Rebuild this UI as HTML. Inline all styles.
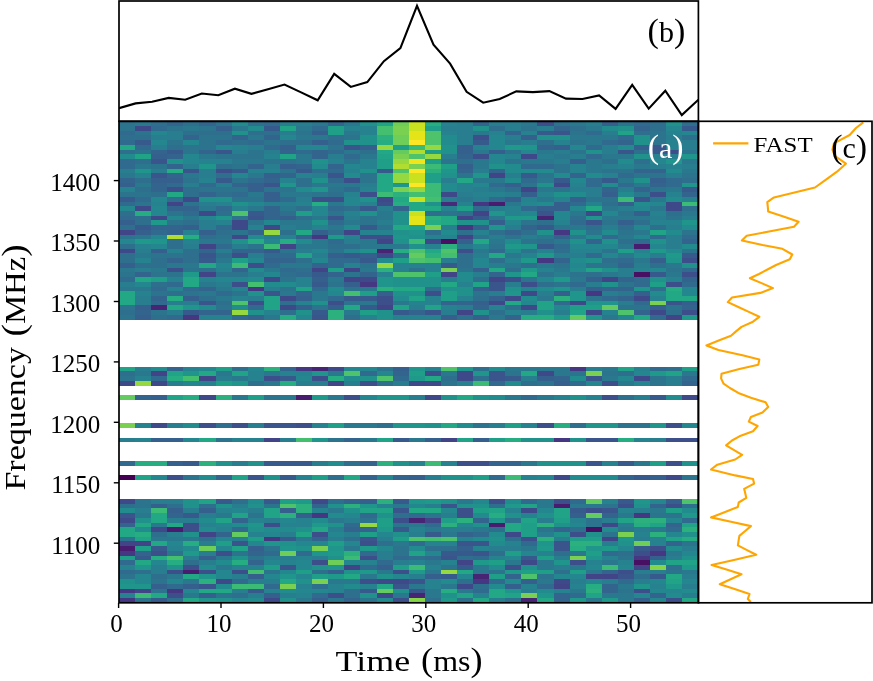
<!DOCTYPE html>
<html><head><meta charset="utf-8"><title>FAST burst dynamic spectrum</title>
<style>
html,body{margin:0;padding:0;background:#fff}
body{width:873px;height:681px;overflow:hidden}
svg{display:block}
text{font-family:"Liberation Serif","DejaVu Serif",serif;fill:#000}
</style></head><body>
<svg width="873" height="681" viewBox="0 0 873 681">
<rect width="873" height="681" fill="#fff"/>
<g shape-rendering="crispEdges"><path fill="#2c738e" d="M119 121h16v5h-16zM216 121h16v5h-16zM554 121h16v5h-16zM618 121h16v5h-16zM119 126h16v5h-16zM167 126h16v5h-16zM199 126h17v5h-17zM521 126h16v5h-16zM135 131h16v4h-16zM296 131h16v4h-16zM570 131h16v4h-16zM650 131h16v4h-16zM199 135h17v5h-17zM216 135h16v5h-16zM344 135h16v5h-16zM650 135h16v5h-16zM167 140h16v5h-16zM199 140h17v5h-17zM264 140h16v5h-16zM570 140h16v5h-16zM650 140h16v5h-16zM183 145h16v5h-16zM199 145h17v5h-17zM328 145h16v5h-16zM135 150h16v4h-16zM183 150h16v4h-16zM248 150h16v4h-16zM505 150h16v4h-16zM570 150h16v4h-16zM682 150h16v4h-16zM216 154h16v5h-16zM232 154h16v5h-16zM248 154h16v5h-16zM264 159h16v5h-16zM280 159h16v5h-16zM344 159h16v5h-16zM441 159h16v5h-16zM505 159h16v5h-16zM151 164h16v5h-16zM232 164h16v5h-16zM554 164h16v5h-16zM280 169h16v4h-16zM554 169h16v4h-16zM602 169h16v4h-16zM618 169h16v4h-16zM360 173h17v5h-17zM457 173h16v5h-16zM537 173h17v5h-17zM634 173h16v5h-16zM650 173h16v5h-16zM682 173h16v5h-16zM183 178h16v5h-16zM232 178h16v5h-16zM360 178h17v5h-17zM521 183h16v4h-16zM199 187h17v5h-17zM216 187h16v5h-16zM232 187h16v5h-16zM264 187h16v5h-16zM280 187h16v5h-16zM328 187h16v5h-16zM554 187h16v5h-16zM650 187h16v5h-16zM119 192h16v5h-16zM135 192h16v5h-16zM312 192h16v5h-16zM232 197h16v5h-16zM248 197h16v5h-16zM586 197h16v5h-16zM602 197h16v5h-16zM135 202h16v4h-16zM183 202h16v4h-16zM167 211h16v5h-16zM328 211h16v5h-16zM441 211h16v5h-16zM618 211h16v5h-16zM232 216h16v4h-16zM360 216h17v4h-17zM666 216h16v4h-16zM167 220h16v5h-16zM248 220h16v5h-16zM360 220h17v5h-17zM521 220h16v5h-16zM602 220h16v5h-16zM377 225h16v5h-16zM554 225h16v5h-16zM232 230h16v5h-16zM586 230h16v5h-16zM618 230h16v5h-16zM682 230h16v5h-16zM119 235h16v4h-16zM216 235h16v4h-16zM473 235h16v4h-16zM505 235h16v4h-16zM521 239h16v5h-16zM248 244h16v5h-16zM489 244h16v5h-16zM280 249h16v4h-16zM328 249h16v4h-16zM521 249h16v4h-16zM602 249h16v4h-16zM682 249h16v4h-16zM151 253h16v5h-16zM167 253h16v5h-16zM360 263h17v5h-17zM554 263h16v5h-16zM586 263h16v5h-16zM602 263h16v5h-16zM183 268h16v4h-16zM409 268h16v4h-16zM457 268h16v4h-16zM666 268h16v4h-16zM119 272h16v5h-16zM151 272h16v5h-16zM167 272h16v5h-16zM216 272h16v5h-16zM232 272h16v5h-16zM344 272h16v5h-16zM537 272h17v5h-17zM570 272h16v5h-16zM280 277h16v5h-16zM521 277h16v5h-16zM328 282h16v5h-16zM554 282h16v5h-16zM618 282h16v5h-16zM280 287h16v4h-16zM344 287h16v4h-16zM151 291h16v5h-16zM183 291h16v5h-16zM232 291h16v5h-16zM473 291h16v5h-16zM586 296h16v5h-16zM344 301h16v4h-16zM119 305h16v5h-16zM216 305h16v5h-16zM312 305h16v5h-16zM618 305h16v5h-16zM634 305h16v5h-16zM666 305h16v5h-16zM151 310h16v5h-16zM119 315h16v5h-16zM377 367h16v4h-16zM505 371h16v5h-16zM570 371h16v5h-16zM602 371h16v5h-16zM119 376h16v5h-16zM650 376h16v5h-16zM441 381h16v5h-16zM537 381h17v5h-17zM650 381h16v5h-16zM264 395h16v5h-16zM473 423h16v5h-16zM618 423h16v5h-16zM634 423h16v5h-16zM216 438h16v4h-16zM328 438h16v4h-16zM183 475h16v5h-16zM682 475h16v5h-16zM135 499h16v5h-16zM135 504h16v4h-16zM264 504h16v4h-16zM602 504h16v4h-16zM248 513h16v5h-16zM425 513h16v5h-16zM650 513h16v5h-16zM666 513h16v5h-16zM360 518h17v5h-17zM586 518h16v5h-16zM393 523h16v4h-16zM586 523h16v4h-16zM537 527h17v5h-17zM602 532h16v5h-16zM119 537h16v4h-16zM682 541h16v5h-16zM264 546h16v5h-16zM393 546h16v5h-16zM167 551h16v5h-16zM232 551h16v5h-16zM393 551h16v5h-16zM248 556h16v4h-16zM618 556h16v4h-16zM441 565h16v5h-16zM264 570h16v4h-16zM489 570h16v4h-16zM666 570h16v4h-16zM119 574h16v5h-16zM537 574h17v5h-17zM151 579h16v5h-16zM151 589h16v4h-16zM618 589h16v4h-16zM216 593h16v5h-16zM135 598h16v5h-16zM360 598h17v5h-17z"/><path fill="#2a788e" d="M135 121h16v5h-16zM312 121h16v5h-16zM344 121h16v5h-16zM521 121h16v5h-16zM570 121h16v5h-16zM183 126h16v5h-16zM232 126h16v5h-16zM296 126h16v5h-16zM586 126h16v5h-16zM344 131h16v4h-16zM473 131h16v4h-16zM248 135h16v5h-16zM296 135h16v5h-16zM312 135h16v5h-16zM570 135h16v5h-16zM586 135h16v5h-16zM602 135h16v5h-16zM505 140h16v5h-16zM586 140h16v5h-16zM344 150h16v4h-16zM473 150h16v4h-16zM537 150h17v4h-17zM199 154h17v5h-17zM296 154h16v5h-16zM360 154h17v5h-17zM554 154h16v5h-16zM602 154h16v5h-16zM618 154h16v5h-16zM232 159h16v5h-16zM248 159h16v5h-16zM296 159h16v5h-16zM473 159h16v5h-16zM521 159h16v5h-16zM537 159h17v5h-17zM586 159h16v5h-16zM682 159h16v5h-16zM135 164h16v5h-16zM473 164h16v5h-16zM586 164h16v5h-16zM634 164h16v5h-16zM586 169h16v4h-16zM682 169h16v4h-16zM119 173h16v5h-16zM183 173h16v5h-16zM248 173h16v5h-16zM473 178h16v5h-16zM489 178h16v5h-16zM537 178h17v5h-17zM618 178h16v5h-16zM135 183h16v4h-16zM312 183h16v4h-16zM328 183h16v4h-16zM344 183h16v4h-16zM634 183h16v4h-16zM489 187h16v5h-16zM537 187h17v5h-17zM666 187h16v5h-16zM248 192h16v5h-16zM280 192h16v5h-16zM296 192h16v5h-16zM634 192h16v5h-16zM457 197h16v5h-16zM537 197h17v5h-17zM650 197h16v5h-16zM328 202h16v4h-16zM505 202h16v4h-16zM199 206h17v5h-17zM248 206h16v5h-16zM280 206h16v5h-16zM602 206h16v5h-16zM650 206h16v5h-16zM377 211h16v5h-16zM570 211h16v5h-16zM682 211h16v5h-16zM183 216h16v4h-16zM312 216h16v4h-16zM377 216h16v4h-16zM489 216h16v4h-16zM602 216h16v4h-16zM618 216h16v4h-16zM634 216h16v4h-16zM280 220h16v5h-16zM296 220h16v5h-16zM344 220h16v5h-16zM296 225h16v5h-16zM328 225h16v5h-16zM570 225h16v5h-16zM634 230h16v5h-16zM135 235h16v4h-16zM537 235h17v4h-17zM570 235h16v4h-16zM618 235h16v4h-16zM199 239h17v5h-17zM216 239h16v5h-16zM312 239h16v5h-16zM360 239h17v5h-17zM489 239h16v5h-16zM554 239h16v5h-16zM296 244h16v5h-16zM312 244h16v5h-16zM360 244h17v5h-17zM377 244h16v5h-16zM393 244h16v5h-16zM457 244h16v5h-16zM618 244h16v5h-16zM473 249h16v4h-16zM135 253h16v5h-16zM505 253h16v5h-16zM618 253h16v5h-16zM216 258h16v5h-16zM634 258h16v5h-16zM167 263h16v5h-16zM183 263h16v5h-16zM280 263h16v5h-16zM296 263h16v5h-16zM505 263h16v5h-16zM537 263h17v5h-17zM666 263h16v5h-16zM119 268h16v4h-16zM151 268h16v4h-16zM264 268h16v4h-16zM360 268h17v4h-17zM554 268h16v4h-16zM602 272h16v5h-16zM666 272h16v5h-16zM328 277h16v5h-16zM570 277h16v5h-16zM199 282h17v5h-17zM119 287h16v4h-16zM135 287h16v4h-16zM216 287h16v4h-16zM360 287h17v4h-17zM199 291h17v5h-17zM280 291h16v5h-16zM312 291h16v5h-16zM618 291h16v5h-16zM216 296h16v5h-16zM312 296h16v5h-16zM537 296h17v5h-17zM360 301h17v4h-17zM393 301h16v4h-16zM344 310h16v5h-16zM264 315h16v5h-16zM489 315h16v5h-16zM602 315h16v5h-16zM505 367h16v4h-16zM521 367h16v4h-16zM537 367h17v4h-17zM554 367h16v4h-16zM602 367h16v4h-16zM135 371h16v5h-16zM216 371h16v5h-16zM264 371h16v5h-16zM328 371h16v5h-16zM441 371h16v5h-16zM554 371h16v5h-16zM682 371h16v5h-16zM232 376h16v5h-16zM602 376h16v5h-16zM264 381h16v5h-16zM618 381h16v5h-16zM232 395h16v5h-16zM280 395h16v5h-16zM328 395h16v5h-16zM505 395h16v5h-16zM537 395h17v5h-17zM344 423h16v5h-16zM360 423h17v5h-17zM360 438h17v4h-17zM409 438h16v4h-16zM521 461h16v5h-16zM634 461h16v5h-16zM457 499h16v5h-16zM537 499h17v5h-17zM393 504h16v4h-16zM537 504h17v4h-17zM570 504h16v4h-16zM586 504h16v4h-16zM328 508h16v5h-16zM650 508h16v5h-16zM135 513h16v5h-16zM216 513h16v5h-16zM618 513h16v5h-16zM328 518h16v5h-16zM151 523h16v4h-16zM409 523h16v4h-16zM425 527h16v5h-16zM473 527h16v5h-16zM618 527h16v5h-16zM650 527h16v5h-16zM441 532h16v5h-16zM151 537h16v4h-16zM167 537h16v4h-16zM183 537h16v4h-16zM296 537h16v4h-16zM393 541h16v5h-16zM344 546h16v5h-16zM521 546h16v5h-16zM570 551h16v5h-16zM666 551h16v5h-16zM216 556h16v4h-16zM425 560h16v5h-16zM505 560h16v5h-16zM537 560h17v5h-17zM602 560h16v5h-16zM216 565h16v5h-16zM473 565h16v5h-16zM537 565h17v5h-17zM570 565h16v5h-16zM377 570h16v4h-16zM425 570h16v4h-16zM473 570h16v4h-16zM586 570h16v4h-16zM682 570h16v4h-16zM167 574h16v5h-16zM360 574h17v5h-17zM183 579h16v5h-16zM328 579h16v5h-16zM344 579h16v5h-16zM537 579h17v5h-17zM409 584h16v5h-16zM441 584h16v5h-16zM618 584h16v5h-16zM425 589h16v4h-16zM457 589h16v4h-16zM570 589h16v4h-16zM183 593h16v5h-16zM393 593h16v5h-16zM425 593h16v5h-16zM602 593h16v5h-16zM618 593h16v5h-16zM296 598h16v5h-16zM328 598h16v5h-16zM586 598h16v5h-16zM618 598h16v5h-16z"/><path fill="#2e6f8e" d="M151 121h16v5h-16zM183 121h16v5h-16zM248 121h16v5h-16zM650 121h16v5h-16zM682 121h16v5h-16zM489 126h16v5h-16zM570 126h16v5h-16zM650 126h16v5h-16zM183 131h16v4h-16zM199 131h17v4h-17zM216 131h16v4h-16zM248 131h16v4h-16zM264 131h16v4h-16zM634 131h16v4h-16zM119 135h16v5h-16zM135 135h16v5h-16zM328 135h16v5h-16zM682 135h16v5h-16zM232 140h16v5h-16zM280 140h16v5h-16zM296 140h16v5h-16zM537 140h17v5h-17zM167 145h16v5h-16zM119 150h16v4h-16zM360 150h17v4h-17zM634 150h16v4h-16zM135 159h16v5h-16zM457 159h16v5h-16zM602 159h16v5h-16zM634 159h16v5h-16zM216 164h16v5h-16zM312 169h16v4h-16zM216 173h16v5h-16zM135 178h16v5h-16zM296 178h16v5h-16zM682 178h16v5h-16zM296 183h16v4h-16zM135 187h16v5h-16zM183 187h16v5h-16zM505 187h16v5h-16zM151 192h16v5h-16zM183 192h16v5h-16zM216 192h16v5h-16zM328 192h16v5h-16zM167 197h16v5h-16zM602 202h16v4h-16zM296 206h16v5h-16zM344 206h16v5h-16zM682 206h16v5h-16zM119 211h16v5h-16zM216 211h16v5h-16zM280 211h16v5h-16zM425 211h16v5h-16zM457 211h16v5h-16zM666 211h16v5h-16zM135 216h16v4h-16zM296 216h16v4h-16zM570 216h16v4h-16zM135 220h16v5h-16zM183 220h16v5h-16zM537 220h17v5h-17zM634 220h16v5h-16zM119 225h16v5h-16zM586 225h16v5h-16zM618 225h16v5h-16zM650 225h16v5h-16zM216 230h16v5h-16zM280 230h16v5h-16zM328 230h16v5h-16zM425 230h16v5h-16zM457 230h16v5h-16zM489 230h16v5h-16zM521 230h16v5h-16zM199 235h17v4h-17zM167 239h16v5h-16zM537 239h17v5h-17zM618 239h16v5h-16zM119 244h16v5h-16zM167 244h16v5h-16zM328 244h16v5h-16zM344 244h16v5h-16zM183 249h16v4h-16zM554 249h16v4h-16zM119 253h16v5h-16zM183 253h16v5h-16zM216 253h16v5h-16zM393 253h16v5h-16zM457 253h16v5h-16zM119 258h16v5h-16zM151 258h16v5h-16zM183 258h16v5h-16zM296 258h16v5h-16zM457 258h16v5h-16zM489 258h16v5h-16zM602 258h16v5h-16zM135 263h16v5h-16zM151 263h16v5h-16zM457 263h16v5h-16zM521 263h16v5h-16zM650 263h16v5h-16zM199 268h17v4h-17zM296 268h16v4h-16zM505 268h16v4h-16zM280 272h16v5h-16zM586 272h16v5h-16zM473 277h16v5h-16zM151 282h16v5h-16zM537 282h17v5h-17zM425 287h16v4h-16zM650 287h16v4h-16zM167 291h16v5h-16zM199 296h17v5h-17zM473 296h16v5h-16zM216 301h16v4h-16zM280 301h16v4h-16zM505 305h16v5h-16zM119 310h16v5h-16zM280 310h16v5h-16zM489 310h16v5h-16zM666 310h16v5h-16zM151 315h16v5h-16zM344 315h16v5h-16zM457 315h16v5h-16zM232 367h16v4h-16zM473 367h16v4h-16zM666 367h16v4h-16zM119 371h16v5h-16zM618 371h16v5h-16zM441 376h16v5h-16zM473 376h16v5h-16zM248 381h16v5h-16zM377 381h16v5h-16zM521 381h16v5h-16zM618 395h16v5h-16zM216 423h16v5h-16zM377 423h16v5h-16zM570 423h16v5h-16zM344 461h16v5h-16zM328 475h16v5h-16zM232 499h16v5h-16zM328 499h16v5h-16zM119 504h16v4h-16zM167 504h16v4h-16zM199 504h17v4h-17zM489 504h16v4h-16zM682 504h16v4h-16zM393 513h16v5h-16zM505 518h16v5h-16zM489 527h16v5h-16zM570 527h16v5h-16zM151 532h16v5h-16zM199 537h17v4h-17zM344 537h16v4h-16zM505 537h16v4h-16zM377 541h16v5h-16zM425 546h16v5h-16zM441 546h16v5h-16zM489 551h16v5h-16zM554 551h16v5h-16zM618 551h16v5h-16zM409 556h16v4h-16zM457 556h16v4h-16zM183 560h16v5h-16zM666 565h16v5h-16zM135 570h16v4h-16zM312 570h16v4h-16zM554 570h16v4h-16zM151 574h16v5h-16zM634 574h16v5h-16zM457 579h16v5h-16zM312 584h16v5h-16zM473 584h16v5h-16zM344 589h16v4h-16zM232 593h16v5h-16zM344 593h16v5h-16zM167 598h16v5h-16zM425 598h16v5h-16zM457 598h16v5h-16zM505 598h16v5h-16z"/><path fill="#32648e" d="M167 121h16v5h-16zM199 121h17v5h-17zM328 121h16v5h-16zM473 121h16v5h-16zM554 126h16v5h-16zM634 126h16v5h-16zM505 131h16v4h-16zM183 135h16v5h-16zM232 135h16v5h-16zM264 135h16v5h-16zM618 140h16v5h-16zM537 145h17v5h-17zM151 150h16v4h-16zM199 150h17v4h-17zM280 150h16v4h-16zM312 150h16v4h-16zM167 154h16v5h-16zM312 154h16v5h-16zM457 154h16v5h-16zM167 164h16v5h-16zM248 164h16v5h-16zM296 164h16v5h-16zM328 164h16v5h-16zM457 169h16v4h-16zM489 169h16v4h-16zM634 169h16v4h-16zM650 169h16v4h-16zM167 173h16v5h-16zM280 173h16v5h-16zM570 173h16v5h-16zM119 178h16v5h-16zM264 178h16v5h-16zM151 183h16v4h-16zM232 183h16v4h-16zM650 183h16v4h-16zM151 187h16v5h-16zM602 187h16v5h-16zM634 187h16v5h-16zM199 192h17v5h-17zM682 192h16v5h-16zM167 206h16v5h-16zM183 206h16v5h-16zM264 206h16v5h-16zM393 206h16v5h-16zM264 211h16v5h-16zM264 216h16v4h-16zM151 225h16v5h-16zM167 225h16v5h-16zM521 225h16v5h-16zM167 230h16v5h-16zM248 230h16v5h-16zM505 230h16v5h-16zM296 235h16v4h-16zM554 235h16v4h-16zM586 239h16v5h-16zM682 239h16v5h-16zM199 249h17v4h-17zM232 249h16v4h-16zM248 249h16v4h-16zM167 258h16v5h-16zM264 258h16v5h-16zM280 258h16v5h-16zM554 258h16v5h-16zM312 263h16v5h-16zM618 263h16v5h-16zM232 268h16v4h-16zM135 272h16v5h-16zM328 272h16v5h-16zM360 272h17v5h-17zM489 272h16v5h-16zM618 277h16v5h-16zM682 277h16v5h-16zM199 287h17v4h-17zM602 287h16v4h-16zM618 287h16v4h-16zM296 291h16v5h-16zM151 296h16v5h-16zM618 296h16v5h-16zM441 301h16v4h-16zM457 301h16v4h-16zM473 305h16v5h-16zM682 305h16v5h-16zM135 310h16v5h-16zM199 310h17v5h-17zM216 310h16v5h-16zM409 310h16v5h-16zM634 310h16v5h-16zM248 315h16v5h-16zM505 315h16v5h-16zM167 367h16v4h-16zM280 367h16v4h-16zM393 371h16v5h-16zM554 376h16v5h-16zM682 381h16v5h-16zM135 395h16v5h-16zM344 438h16v4h-16zM360 461h17v5h-17zM489 461h16v5h-16zM505 461h16v5h-16zM216 475h16v5h-16zM360 475h17v5h-17zM393 475h16v5h-16zM618 475h16v5h-16zM344 499h16v5h-16zM312 504h16v4h-16zM650 504h16v4h-16zM167 513h16v5h-16zM602 513h16v5h-16zM232 518h16v5h-16zM473 518h16v5h-16zM119 523h16v4h-16zM666 523h16v4h-16zM344 527h16v5h-16zM360 527h17v5h-17zM554 527h16v5h-16zM216 532h16v5h-16zM457 532h16v5h-16zM312 537h16v4h-16zM666 541h16v5h-16zM135 551h16v5h-16zM248 551h16v5h-16zM248 560h16v5h-16zM602 570h16v4h-16zM505 574h16v5h-16zM602 584h16v5h-16zM602 589h16v4h-16zM554 593h16v5h-16zM650 593h16v5h-16zM344 598h16v5h-16zM554 598h16v5h-16z"/><path fill="#228b8d" d="M232 121h16v5h-16zM248 126h16v5h-16zM602 126h16v5h-16zM441 135h16v5h-16zM441 140h16v5h-16zM618 145h16v5h-16zM119 154h16v5h-16zM618 159h16v5h-16zM312 164h16v5h-16zM505 164h16v5h-16zM505 169h16v4h-16zM521 169h16v4h-16zM537 169h17v4h-17zM666 169h16v4h-16zM344 173h16v5h-16zM554 173h16v5h-16zM586 173h16v5h-16zM505 178h16v5h-16zM441 183h16v4h-16zM602 183h16v4h-16zM296 187h16v5h-16zM441 187h16v5h-16zM570 192h16v5h-16zM618 192h16v5h-16zM666 197h16v5h-16zM537 202h17v4h-17zM634 202h16v4h-16zM344 225h16v5h-16zM682 225h16v5h-16zM441 230h16v5h-16zM602 230h16v5h-16zM666 230h16v5h-16zM248 235h16v4h-16zM586 235h16v4h-16zM296 239h16v5h-16zM505 239h16v5h-16zM682 244h16v5h-16zM505 249h16v4h-16zM666 249h16v4h-16zM634 253h16v5h-16zM377 258h16v5h-16zM570 258h16v5h-16zM248 268h16v4h-16zM570 268h16v4h-16zM457 272h16v5h-16zM248 277h16v5h-16zM457 277h16v5h-16zM264 282h16v5h-16zM280 282h16v5h-16zM328 287h16v4h-16zM537 287h17v4h-17zM650 291h16v5h-16zM393 296h16v5h-16zM521 296h16v5h-16zM199 305h17v5h-17zM232 305h16v5h-16zM151 367h16v4h-16zM489 367h16v4h-16zM344 376h16v5h-16zM570 376h16v5h-16zM505 381h16v5h-16zM489 395h16v5h-16zM666 395h16v5h-16zM183 423h16v5h-16zM457 423h16v5h-16zM328 461h16v5h-16zM199 475h17v5h-17zM570 475h16v5h-16zM586 475h16v5h-16zM602 475h16v5h-16zM248 499h16v5h-16zM505 499h16v5h-16zM119 508h16v5h-16zM682 508h16v5h-16zM328 513h16v5h-16zM473 513h16v5h-16zM199 518h17v5h-17zM312 518h16v5h-16zM232 523h16v4h-16zM135 527h16v5h-16zM199 527h17v5h-17zM264 527h16v5h-16zM280 527h16v5h-16zM602 527h16v5h-16zM489 532h16v5h-16zM473 537h16v4h-16zM489 541h16v5h-16zM183 546h16v5h-16zM409 546h16v5h-16zM666 546h16v5h-16zM216 560h16v5h-16zM650 560h16v5h-16zM199 565h17v5h-17zM489 565h16v5h-16zM441 579h16v5h-16zM505 579h16v5h-16zM216 584h16v5h-16zM344 584h16v5h-16zM489 584h16v5h-16zM280 589h16v4h-16zM537 589h17v4h-17zM682 589h16v4h-16zM666 593h16v5h-16zM248 598h16v5h-16zM377 598h16v5h-16z"/><path fill="#306a8e" d="M264 121h16v5h-16zM634 121h16v5h-16zM151 126h16v5h-16zM312 126h16v5h-16zM119 131h16v4h-16zM586 131h16v4h-16zM618 135h16v5h-16zM119 140h16v5h-16zM216 140h16v5h-16zM248 140h16v5h-16zM328 140h16v5h-16zM602 140h16v5h-16zM135 145h16v5h-16zM264 145h16v5h-16zM586 145h16v5h-16zM296 150h16v4h-16zM328 150h16v4h-16zM344 154h16v5h-16zM586 154h16v5h-16zM119 159h16v5h-16zM119 164h16v5h-16zM521 164h16v5h-16zM537 164h17v5h-17zM328 169h16v4h-16zM618 173h16v5h-16zM248 178h16v5h-16zM328 178h16v5h-16zM521 178h16v5h-16zM586 178h16v5h-16zM666 178h16v5h-16zM167 183h16v4h-16zM199 183h17v4h-17zM489 183h16v4h-16zM586 183h16v4h-16zM618 183h16v4h-16zM666 183h16v4h-16zM344 187h16v5h-16zM232 192h16v5h-16zM135 197h16v5h-16zM280 197h16v5h-16zM489 197h16v5h-16zM119 202h16v4h-16zM570 202h16v4h-16zM216 206h16v5h-16zM328 206h16v5h-16zM473 206h16v5h-16zM521 206h16v5h-16zM183 211h16v5h-16zM119 216h16v4h-16zM328 220h16v5h-16zM570 220h16v5h-16zM216 225h16v5h-16zM151 230h16v5h-16zM602 235h16v4h-16zM650 235h16v4h-16zM682 235h16v4h-16zM328 239h16v5h-16zM634 239h16v5h-16zM216 244h16v5h-16zM554 244h16v5h-16zM489 249h16v4h-16zM264 253h16v5h-16zM280 253h16v5h-16zM586 253h16v5h-16zM328 258h16v5h-16zM344 258h16v5h-16zM618 258h16v5h-16zM264 263h16v5h-16zM328 263h16v5h-16zM280 268h16v4h-16zM682 268h16v4h-16zM296 272h16v5h-16zM119 277h16v5h-16zM634 277h16v5h-16zM167 282h16v5h-16zM570 282h16v5h-16zM634 282h16v5h-16zM682 282h16v5h-16zM151 287h16v4h-16zM183 287h16v4h-16zM312 287h16v4h-16zM216 291h16v5h-16zM328 296h16v5h-16zM602 296h16v5h-16zM151 301h16v4h-16zM554 301h16v4h-16zM634 301h16v4h-16zM248 305h16v5h-16zM167 315h16v5h-16zM232 315h16v5h-16zM650 315h16v5h-16zM650 367h16v4h-16zM360 371h17v5h-17zM151 376h16v5h-16zM393 376h16v5h-16zM682 376h16v5h-16zM489 381h16v5h-16zM570 381h16v5h-16zM521 395h16v5h-16zM119 461h16v5h-16zM489 475h16v5h-16zM521 499h16v5h-16zM570 499h16v5h-16zM360 513h17v5h-17zM409 513h16v5h-16zM682 518h16v5h-16zM344 523h16v4h-16zM425 523h16v4h-16zM232 527h16v5h-16zM666 527h16v5h-16zM473 532h16v5h-16zM409 541h16v5h-16zM521 541h16v5h-16zM264 551h16v5h-16zM296 551h16v5h-16zM360 551h17v5h-17zM602 551h16v5h-16zM393 556h16v4h-16zM425 556h16v4h-16zM473 556h16v4h-16zM119 560h16v5h-16zM377 560h16v5h-16zM360 565h17v5h-17zM119 570h16v4h-16zM232 579h16v5h-16zM489 579h16v5h-16zM618 579h16v5h-16zM167 584h16v5h-16zM264 584h16v5h-16zM537 584h17v5h-17zM473 589h16v4h-16zM312 593h16v5h-16zM570 593h16v5h-16z"/><path fill="#287d8e" d="M280 121h16v5h-16zM296 121h16v5h-16zM457 121h16v5h-16zM489 121h16v5h-16zM505 121h16v5h-16zM586 121h16v5h-16zM441 126h16v5h-16zM457 126h16v5h-16zM505 126h16v5h-16zM537 126h17v5h-17zM167 131h16v4h-16zM280 131h16v4h-16zM457 131h16v4h-16zM602 131h16v4h-16zM151 135h16v5h-16zM167 135h16v5h-16zM457 135h16v5h-16zM505 135h16v5h-16zM666 135h16v5h-16zM457 140h16v5h-16zM521 140h16v5h-16zM682 140h16v5h-16zM151 145h16v5h-16zM248 145h16v5h-16zM602 145h16v5h-16zM682 145h16v5h-16zM232 150h16v4h-16zM264 150h16v4h-16zM554 150h16v4h-16zM602 150h16v4h-16zM328 154h16v5h-16zM441 154h16v5h-16zM537 154h17v5h-17zM570 154h16v5h-16zM666 154h16v5h-16zM554 159h16v5h-16zM183 164h16v5h-16zM264 164h16v5h-16zM602 164h16v5h-16zM650 164h16v5h-16zM682 164h16v5h-16zM119 169h16v4h-16zM151 169h16v4h-16zM199 169h17v4h-17zM473 169h16v4h-16zM199 173h17v5h-17zM312 173h16v5h-16zM505 173h16v5h-16zM666 173h16v5h-16zM441 178h16v5h-16zM183 183h16v4h-16zM216 183h16v4h-16zM360 183h17v4h-17zM473 187h16v5h-16zM570 187h16v5h-16zM586 187h16v5h-16zM618 187h16v5h-16zM457 192h16v5h-16zM505 192h16v5h-16zM586 192h16v5h-16zM296 197h16v5h-16zM441 197h16v5h-16zM473 197h16v5h-16zM199 202h17v4h-17zM264 202h16v4h-16zM280 202h16v4h-16zM377 206h16v5h-16zM489 206h16v5h-16zM618 206h16v5h-16zM344 216h16v4h-16zM650 216h16v4h-16zM682 216h16v4h-16zM199 220h17v5h-17zM377 220h16v5h-16zM199 225h17v5h-17zM280 225h16v5h-16zM441 225h16v5h-16zM505 225h16v5h-16zM602 225h16v5h-16zM666 225h16v5h-16zM264 235h16v4h-16zM489 235h16v4h-16zM521 235h16v4h-16zM666 235h16v4h-16zM344 239h16v5h-16zM666 239h16v5h-16zM183 244h16v5h-16zM232 244h16v5h-16zM666 244h16v5h-16zM135 249h16v4h-16zM216 249h16v4h-16zM296 249h16v4h-16zM248 253h16v5h-16zM312 253h16v5h-16zM473 253h16v5h-16zM554 253h16v5h-16zM570 253h16v5h-16zM650 253h16v5h-16zM441 258h16v5h-16zM489 263h16v5h-16zM634 263h16v5h-16zM135 268h16v4h-16zM618 268h16v4h-16zM248 272h16v5h-16zM473 272h16v5h-16zM554 272h16v5h-16zM618 272h16v5h-16zM441 277h16v5h-16zM119 282h16v5h-16zM216 282h16v5h-16zM505 282h16v5h-16zM586 282h16v5h-16zM264 287h16v4h-16zM570 287h16v4h-16zM489 291h16v5h-16zM537 291h17v5h-17zM602 291h16v5h-16zM135 296h16v5h-16zM248 296h16v5h-16zM135 301h16v4h-16zM167 301h16v4h-16zM183 301h16v4h-16zM618 301h16v4h-16zM409 305h16v5h-16zM457 305h16v5h-16zM167 310h16v5h-16zM441 310h16v5h-16zM521 310h16v5h-16zM554 310h16v5h-16zM135 367h16v4h-16zM586 367h16v4h-16zM216 376h16v5h-16zM521 376h16v5h-16zM666 376h16v5h-16zM167 381h16v5h-16zM296 381h16v5h-16zM312 381h16v5h-16zM344 381h16v5h-16zM393 381h16v5h-16zM666 381h16v5h-16zM409 395h16v5h-16zM634 395h16v5h-16zM167 423h16v5h-16zM248 423h16v5h-16zM489 423h16v5h-16zM119 438h16v4h-16zM280 438h16v4h-16zM650 438h16v4h-16zM232 461h16v5h-16zM312 461h16v5h-16zM425 475h16v5h-16zM151 499h16v5h-16zM167 499h16v5h-16zM232 504h16v4h-16zM425 504h16v4h-16zM135 508h16v5h-16zM183 508h16v5h-16zM248 508h16v5h-16zM634 508h16v5h-16zM199 513h17v5h-17zM441 513h16v5h-16zM167 518h16v5h-16zM183 518h16v5h-16zM264 518h16v5h-16zM344 518h16v5h-16zM537 518h17v5h-17zM602 518h16v5h-16zM618 523h16v4h-16zM328 527h16v5h-16zM441 527h16v5h-16zM457 527h16v5h-16zM634 527h16v5h-16zM167 532h16v5h-16zM280 532h16v5h-16zM344 532h16v5h-16zM409 532h16v5h-16zM537 532h17v5h-17zM232 537h16v4h-16zM328 537h16v4h-16zM377 537h16v4h-16zM554 537h16v4h-16zM634 537h16v4h-16zM199 541h17v5h-17zM602 541h16v5h-16zM489 546h16v5h-16zM505 546h16v5h-16zM682 546h16v5h-16zM199 551h17v5h-17zM377 551h16v5h-16zM183 556h16v4h-16zM264 556h16v4h-16zM280 556h16v4h-16zM312 556h16v4h-16zM377 556h16v4h-16zM554 556h16v4h-16zM666 556h16v4h-16zM199 560h17v5h-17zM393 560h16v5h-16zM151 565h16v5h-16zM554 565h16v5h-16zM151 570h16v4h-16zM634 570h16v4h-16zM650 570h16v4h-16zM232 574h16v5h-16zM409 574h16v5h-16zM682 574h16v5h-16zM248 579h16v5h-16zM264 579h16v5h-16zM570 579h16v5h-16zM602 579h16v5h-16zM634 579h16v5h-16zM682 584h16v5h-16zM232 589h16v4h-16zM521 589h16v4h-16zM248 593h16v5h-16zM280 593h16v5h-16zM682 593h16v5h-16zM489 598h16v5h-16z"/><path fill="#21918c" d="M360 121h17v5h-17zM666 121h16v5h-16zM473 126h16v5h-16zM618 126h16v5h-16zM232 131h16v4h-16zM360 135h17v5h-17zM537 135h17v5h-17zM554 135h16v5h-16zM634 135h16v5h-16zM344 140h16v5h-16zM360 140h17v5h-17zM634 140h16v5h-16zM441 145h16v5h-16zM441 150h16v4h-16zM586 150h16v4h-16zM634 154h16v5h-16zM167 159h16v5h-16zM312 159h16v5h-16zM489 164h16v5h-16zM360 169h17v4h-17zM441 173h16v5h-16zM312 178h16v5h-16zM634 178h16v5h-16zM537 183h17v4h-17zM554 192h16v5h-16zM199 197h17v5h-17zM216 197h16v5h-16zM360 197h17v5h-17zM232 202h16v4h-16zM425 202h16v4h-16zM360 211h17v5h-17zM393 211h16v5h-16zM393 216h16v4h-16zM312 220h16v5h-16zM393 220h16v5h-16zM457 220h16v5h-16zM473 220h16v5h-16zM393 230h16v5h-16zM537 230h17v5h-17zM570 230h16v5h-16zM409 235h16v4h-16zM232 239h16v5h-16zM393 239h16v5h-16zM570 239h16v5h-16zM602 239h16v5h-16zM650 239h16v5h-16zM409 244h16v5h-16zM360 249h17v4h-17zM586 258h16v5h-16zM682 263h16v5h-16zM602 268h16v4h-16zM393 277h16v5h-16zM409 277h16v5h-16zM425 277h16v5h-16zM650 277h16v5h-16zM393 282h16v5h-16zM409 282h16v5h-16zM425 282h16v5h-16zM602 282h16v5h-16zM441 287h16v4h-16zM457 287h16v4h-16zM505 287h16v4h-16zM248 291h16v5h-16zM393 291h16v5h-16zM409 291h16v5h-16zM457 291h16v5h-16zM312 301h16v4h-16zM248 310h16v5h-16zM296 310h16v5h-16zM377 310h16v5h-16zM473 310h16v5h-16zM537 310h17v5h-17zM377 315h16v5h-16zM360 376h17v5h-17zM441 395h16v5h-16zM473 395h16v5h-16zM570 395h16v5h-16zM425 423h16v5h-16zM521 438h16v4h-16zM537 438h17v4h-17zM570 438h16v4h-16zM216 461h16v5h-16zM248 461h16v5h-16zM393 461h16v5h-16zM537 461h17v5h-17zM554 461h16v5h-16zM570 461h16v5h-16zM682 461h16v5h-16zM264 475h16v5h-16zM441 475h16v5h-16zM457 475h16v5h-16zM183 499h16v5h-16zM441 499h16v5h-16zM183 504h16v4h-16zM216 504h16v4h-16zM248 504h16v4h-16zM328 504h16v4h-16zM457 504h16v4h-16zM473 504h16v4h-16zM634 504h16v4h-16zM344 508h16v5h-16zM377 513h16v5h-16zM505 513h16v5h-16zM537 513h17v5h-17zM135 518h16v5h-16zM328 523h16v4h-16zM473 523h16v4h-16zM554 523h16v4h-16zM248 527h16v5h-16zM296 527h16v5h-16zM183 532h16v5h-16zM393 532h16v5h-16zM554 532h16v5h-16zM586 532h16v5h-16zM682 532h16v5h-16zM489 537h16v4h-16zM280 541h16v5h-16zM618 541h16v5h-16zM296 546h16v5h-16zM232 556h16v4h-16zM328 556h16v4h-16zM682 556h16v4h-16zM167 565h16v5h-16zM312 565h16v5h-16zM521 565h16v5h-16zM344 570h16v4h-16zM377 574h16v5h-16zM119 579h16v5h-16zM296 579h16v5h-16zM393 589h16v4h-16zM360 593h17v5h-17zM441 593h16v5h-16zM216 598h16v5h-16zM280 598h16v5h-16z"/><path fill="#20a386" d="M377 121h16v5h-16zM280 126h16v5h-16zM618 131h16v4h-16zM135 154h16v5h-16zM280 154h16v5h-16zM377 154h16v5h-16zM409 225h16v5h-16zM650 230h16v5h-16zM296 253h16v5h-16zM586 268h16v4h-16zM473 282h16v5h-16zM296 287h16v4h-16zM264 296h16v5h-16zM409 296h16v5h-16zM264 301h16v4h-16zM537 301h17v4h-17zM264 305h16v5h-16zM393 305h16v5h-16zM425 305h16v5h-16zM537 305h17v5h-17zM570 310h16v5h-16zM119 367h16v4h-16zM618 367h16v4h-16zM167 371h16v5h-16zM232 371h16v5h-16zM666 371h16v5h-16zM167 395h16v5h-16zM377 438h16v4h-16zM457 438h16v4h-16zM135 475h16v5h-16zM232 475h16v5h-16zM199 499h17v5h-17zM521 504h16v4h-16zM264 508h16v5h-16zM360 508h17v5h-17zM377 508h16v5h-16zM489 508h16v5h-16zM554 508h16v5h-16zM232 513h16v5h-16zM264 513h16v5h-16zM554 513h16v5h-16zM216 518h16v5h-16zM521 518h16v5h-16zM618 518h16v5h-16zM650 523h16v4h-16zM682 523h16v4h-16zM296 532h16v5h-16zM135 537h16v4h-16zM666 537h16v4h-16zM232 546h16v5h-16zM409 551h16v5h-16zM666 560h16v5h-16zM682 560h16v5h-16zM666 579h16v5h-16zM457 593h16v5h-16zM505 593h16v5h-16zM586 593h16v5h-16z"/><path fill="#6ece58" d="M393 121h16v5h-16zM393 135h16v5h-16zM393 140h16v5h-16zM634 541h16v5h-16zM199 546h17v5h-17zM280 551h16v5h-16zM328 560h16v5h-16z"/><path fill="#cae11f" d="M409 121h16v5h-16zM409 126h16v5h-16zM409 173h16v5h-16zM409 178h16v5h-16zM409 197h16v5h-16zM409 211h16v5h-16z"/><path fill="#26ad81" d="M425 121h16v5h-16zM377 140h16v5h-16zM167 169h16v4h-16zM312 202h16v4h-16zM393 202h16v4h-16zM135 211h16v5h-16zM425 220h16v5h-16zM183 235h16v4h-16zM248 239h16v5h-16zM280 239h16v5h-16zM393 249h16v4h-16zM666 287h16v4h-16zM167 296h16v5h-16zM280 315h16v5h-16zM521 315h16v5h-16zM537 315h17v5h-17zM167 376h16v5h-16zM328 376h16v5h-16zM280 381h16v5h-16zM183 395h16v5h-16zM554 423h16v5h-16zM505 438h16v4h-16zM618 438h16v4h-16zM135 461h16v5h-16zM151 461h16v5h-16zM489 513h16v5h-16zM634 523h16v4h-16zM135 532h16v5h-16zM682 537h16v4h-16zM183 541h16v5h-16zM570 546h16v5h-16zM151 556h16v4h-16zM167 560h16v5h-16zM232 560h16v5h-16zM586 584h16v5h-16zM441 589h16v4h-16z"/><path fill="#26828e" d="M441 121h16v5h-16zM344 126h16v5h-16zM360 126h17v5h-17zM360 131h17v4h-17zM441 131h16v4h-16zM489 131h16v4h-16zM521 131h16v4h-16zM666 131h16v4h-16zM554 140h16v5h-16zM666 140h16v5h-16zM232 145h16v5h-16zM473 145h16v5h-16zM666 145h16v5h-16zM264 154h16v5h-16zM505 154h16v5h-16zM650 154h16v5h-16zM199 159h17v5h-17zM216 159h16v5h-16zM328 159h16v5h-16zM360 159h17v5h-17zM360 164h17v5h-17zM570 164h16v5h-16zM618 164h16v5h-16zM666 164h16v5h-16zM248 169h16v4h-16zM264 169h16v4h-16zM344 169h16v4h-16zM570 169h16v4h-16zM135 173h16v5h-16zM296 173h16v5h-16zM602 173h16v5h-16zM199 178h17v5h-17zM280 178h16v5h-16zM457 183h16v4h-16zM570 183h16v4h-16zM119 187h16v5h-16zM360 187h17v5h-17zM457 187h16v5h-16zM344 192h16v5h-16zM473 192h16v5h-16zM489 192h16v5h-16zM537 192h17v5h-17zM666 192h16v5h-16zM521 197h16v5h-16zM554 197h16v5h-16zM682 197h16v5h-16zM151 202h16v4h-16zM216 202h16v4h-16zM296 202h16v4h-16zM360 202h17v4h-17zM457 202h16v4h-16zM586 202h16v4h-16zM232 206h16v5h-16zM441 206h16v5h-16zM505 206h16v5h-16zM344 211h16v5h-16zM505 211h16v5h-16zM650 211h16v5h-16zM216 220h16v5h-16zM554 220h16v5h-16zM650 220h16v5h-16zM666 220h16v5h-16zM248 225h16v5h-16zM312 225h16v5h-16zM183 230h16v5h-16zM360 230h17v5h-17zM377 230h16v5h-16zM473 230h16v5h-16zM280 235h16v4h-16zM344 235h16v4h-16zM425 235h16v4h-16zM441 235h16v4h-16zM183 239h16v5h-16zM135 244h16v5h-16zM425 244h16v5h-16zM167 249h16v4h-16zM537 249h17v4h-17zM570 249h16v4h-16zM586 249h16v4h-16zM634 249h16v4h-16zM521 253h16v5h-16zM135 258h16v5h-16zM505 258h16v5h-16zM344 263h16v5h-16zM393 263h16v5h-16zM409 263h16v5h-16zM425 263h16v5h-16zM216 268h16v4h-16zM393 268h16v4h-16zM425 268h16v4h-16zM537 268h17v4h-17zM634 268h16v4h-16zM377 272h16v5h-16zM167 277h16v5h-16zM199 277h17v5h-17zM296 277h16v5h-16zM666 277h16v5h-16zM296 282h16v5h-16zM457 282h16v5h-16zM167 287h16v4h-16zM232 287h16v4h-16zM521 287h16v4h-16zM135 291h16v5h-16zM232 296h16v5h-16zM425 296h16v5h-16zM457 296h16v5h-16zM650 296h16v5h-16zM296 301h16v4h-16zM409 301h16v4h-16zM425 301h16v4h-16zM441 305h16v5h-16zM489 305h16v5h-16zM264 310h16v5h-16zM505 310h16v5h-16zM602 310h16v5h-16zM199 315h17v5h-17zM216 315h16v5h-16zM360 315h17v5h-17zM393 315h16v5h-16zM409 315h16v5h-16zM425 315h16v5h-16zM183 367h16v4h-16zM425 367h16v4h-16zM634 367h16v4h-16zM248 371h16v5h-16zM280 371h16v5h-16zM296 371h16v5h-16zM135 376h16v5h-16zM248 376h16v5h-16zM199 381h17v5h-17zM457 381h16v5h-16zM554 395h16v5h-16zM586 395h16v5h-16zM135 423h16v5h-16zM312 423h16v5h-16zM521 423h16v5h-16zM135 438h16v4h-16zM232 438h16v4h-16zM248 438h16v4h-16zM634 438h16v4h-16zM409 461h16v5h-16zM441 461h16v5h-16zM602 461h16v5h-16zM296 475h16v5h-16zM521 475h16v5h-16zM602 499h16v5h-16zM377 504h16v4h-16zM216 508h16v5h-16zM312 508h16v5h-16zM505 508h16v5h-16zM618 508h16v5h-16zM521 513h16v5h-16zM248 518h16v5h-16zM296 518h16v5h-16zM570 518h16v5h-16zM199 523h17v4h-17zM280 523h16v4h-16zM296 523h16v4h-16zM216 527h16v5h-16zM409 527h16v5h-16zM248 532h16v5h-16zM634 532h16v5h-16zM457 537h16v4h-16zM650 537h16v4h-16zM425 541h16v5h-16zM441 541h16v5h-16zM505 541h16v5h-16zM650 541h16v5h-16zM167 546h16v5h-16zM473 546h16v5h-16zM537 551h17v5h-17zM296 556h16v4h-16zM489 556h16v4h-16zM602 556h16v4h-16zM280 560h16v5h-16zM360 560h17v5h-17zM409 560h16v5h-16zM441 560h16v5h-16zM586 560h16v5h-16zM618 560h16v5h-16zM119 565h16v5h-16zM232 565h16v5h-16zM248 565h16v5h-16zM425 565h16v5h-16zM425 579h16v5h-16zM296 584h16v5h-16zM328 584h16v5h-16zM360 584h17v5h-17zM425 584h16v5h-16zM521 584h16v5h-16zM570 584h16v5h-16zM650 584h16v5h-16zM264 589h16v4h-16zM328 589h16v4h-16zM554 589h16v4h-16zM119 593h16v5h-16zM296 593h16v5h-16zM473 593h16v5h-16z"/><path fill="#3c4f8a" d="M537 121h17v5h-17zM473 135h16v5h-16zM666 150h16v4h-16zM473 154h16v5h-16zM216 169h16v4h-16zM344 178h16v5h-16zM167 187h16v5h-16zM360 192h17v5h-17zM650 192h16v5h-16zM312 197h16v5h-16zM328 197h16v5h-16zM377 202h16v4h-16zM360 235h17v4h-17zM377 235h16v4h-16zM457 249h16v4h-16zM232 253h16v5h-16zM682 258h16v5h-16zM248 263h16v5h-16zM167 268h16v4h-16zM682 272h16v5h-16zM505 277h16v5h-16zM232 282h16v5h-16zM521 282h16v5h-16zM666 282h16v5h-16zM425 291h16v5h-16zM377 296h16v5h-16zM248 301h16v4h-16zM328 301h16v4h-16zM377 301h16v4h-16zM682 310h16v5h-16zM425 371h16v5h-16zM264 376h16v5h-16zM312 376h16v5h-16zM360 381h17v5h-17zM602 381h16v5h-16zM344 395h16v5h-16zM602 395h16v5h-16zM199 423h17v5h-17zM232 423h16v5h-16zM296 423h16v5h-16zM537 423h17v5h-17zM666 423h16v5h-16zM666 438h16v4h-16zM682 438h16v4h-16zM457 461h16v5h-16zM473 461h16v5h-16zM666 461h16v5h-16zM167 475h16v5h-16zM489 499h16v5h-16zM554 499h16v5h-16zM618 504h16v4h-16zM666 504h16v4h-16zM457 508h16v5h-16zM586 508h16v5h-16zM457 513h16v5h-16zM393 518h16v5h-16zM183 523h16v4h-16zM264 523h16v4h-16zM183 527h16v5h-16zM312 532h16v5h-16zM570 532h16v5h-16zM521 537h16v4h-16zM360 541h17v5h-17zM650 546h16v5h-16zM151 551h16v5h-16zM216 551h16v5h-16zM634 551h16v5h-16zM360 556h17v4h-17zM312 560h16v5h-16zM570 560h16v5h-16zM183 565h16v5h-16zM505 565h16v5h-16zM167 570h16v4h-16zM199 570h17v4h-17zM232 570h16v4h-16zM393 570h16v4h-16zM618 570h16v4h-16zM360 579h17v5h-17zM634 589h16v4h-16zM167 593h16v5h-16zM328 593h16v5h-16zM393 598h16v5h-16zM666 598h16v5h-16z"/><path fill="#355f8d" d="M602 121h16v5h-16zM216 126h16v5h-16zM312 131h16v4h-16zM521 135h16v5h-16zM312 140h16v5h-16zM280 145h16v5h-16zM360 145h17v5h-17zM457 145h16v5h-16zM554 145h16v5h-16zM634 145h16v5h-16zM457 150h16v4h-16zM489 150h16v4h-16zM151 154h16v5h-16zM570 159h16v5h-16zM280 164h16v5h-16zM457 164h16v5h-16zM264 173h16v5h-16zM151 178h16v5h-16zM167 178h16v5h-16zM650 178h16v5h-16zM119 183h16v4h-16zM248 183h16v4h-16zM505 183h16v4h-16zM248 187h16v5h-16zM264 192h16v5h-16zM521 192h16v5h-16zM602 192h16v5h-16zM264 197h16v5h-16zM505 197h16v5h-16zM570 197h16v5h-16zM554 202h16v4h-16zM618 202h16v4h-16zM537 206h17v5h-17zM554 206h16v5h-16zM634 211h16v5h-16zM280 216h16v4h-16zM119 220h16v5h-16zM489 220h16v5h-16zM618 220h16v5h-16zM183 225h16v5h-16zM473 225h16v5h-16zM135 230h16v5h-16zM199 230h17v5h-17zM312 230h16v5h-16zM457 239h16v5h-16zM151 249h16v4h-16zM328 253h16v5h-16zM360 253h17v5h-17zM650 258h16v5h-16zM119 263h16v5h-16zM473 268h16v4h-16zM312 277h16v5h-16zM586 277h16v5h-16zM344 282h16v5h-16zM473 287h16v4h-16zM586 287h16v4h-16zM377 291h16v5h-16zM554 291h16v5h-16zM634 291h16v5h-16zM183 296h16v5h-16zM296 296h16v5h-16zM489 296h16v5h-16zM473 301h16v4h-16zM682 301h16v4h-16zM135 305h16v5h-16zM296 305h16v5h-16zM328 305h16v5h-16zM650 305h16v5h-16zM135 315h16v5h-16zM441 315h16v5h-16zM473 315h16v5h-16zM393 367h16v4h-16zM537 376h17v5h-17zM554 381h16v5h-16zM151 395h16v5h-16zM151 438h16v4h-16zM167 438h16v4h-16zM425 438h16v4h-16zM473 438h16v4h-16zM167 461h16v5h-16zM409 475h16v5h-16zM650 475h16v5h-16zM360 499h17v5h-17zM666 499h16v5h-16zM151 504h16v4h-16zM167 508h16v5h-16zM199 508h17v5h-17zM280 508h16v5h-16zM296 513h16v5h-16zM570 513h16v5h-16zM248 546h16v5h-16zM457 546h16v5h-16zM199 556h17v4h-17zM650 556h16v4h-16zM377 565h16v5h-16zM328 570h16v4h-16zM248 574h16v5h-16zM425 574h16v5h-16zM521 579h16v5h-16zM151 584h16v5h-16zM183 584h16v5h-16zM505 584h16v5h-16zM199 593h17v5h-17zM264 593h16v5h-16zM312 598h16v5h-16zM634 598h16v5h-16z"/><path fill="#3e4989" d="M135 126h16v5h-16zM521 154h16v5h-16zM554 183h16v4h-16zM441 192h16v5h-16zM183 197h16v5h-16zM377 197h16v5h-16zM666 202h16v4h-16zM135 206h16v5h-16zM666 206h16v5h-16zM199 211h17v5h-17zM586 211h16v5h-16zM151 216h16v4h-16zM232 220h16v5h-16zM232 225h16v5h-16zM264 225h16v5h-16zM232 235h16v4h-16zM425 239h16v5h-16zM119 249h16v4h-16zM377 253h16v5h-16zM264 277h16v5h-16zM360 277h17v5h-17zM521 291h16v5h-16zM280 296h16v5h-16zM505 296h16v5h-16zM634 296h16v5h-16zM489 301h16v4h-16zM570 301h16v4h-16zM280 305h16v5h-16zM521 305h16v5h-16zM586 310h16v5h-16zM650 310h16v5h-16zM328 367h16v4h-16zM457 371h16v5h-16zM537 371h17v5h-17zM457 376h16v5h-16zM634 376h16v5h-16zM119 381h16v5h-16zM151 381h16v5h-16zM409 381h16v5h-16zM425 381h16v5h-16zM199 395h17v5h-17zM425 395h16v5h-16zM682 395h16v5h-16zM151 423h16v5h-16zM554 475h16v5h-16zM666 475h16v5h-16zM119 499h16v5h-16zM312 499h16v5h-16zM521 508h16v5h-16zM119 518h16v5h-16zM602 523h16v4h-16zM151 527h16v5h-16zM505 532h16v5h-16zM521 560h16v5h-16zM216 579h16v5h-16zM377 579h16v5h-16zM393 579h16v5h-16zM554 579h16v5h-16zM457 584h16v5h-16zM377 593h16v5h-16zM264 598h16v5h-16z"/><path fill="#375a8c" d="M264 126h16v5h-16zM682 126h16v5h-16zM537 131h17v4h-17zM135 140h16v5h-16zM473 140h16v5h-16zM167 150h16v4h-16zM650 150h16v4h-16zM232 169h16v4h-16zM296 169h16v4h-16zM377 169h16v4h-16zM521 173h16v5h-16zM216 178h16v5h-16zM554 178h16v5h-16zM602 178h16v5h-16zM682 187h16v5h-16zM119 197h16v5h-16zM360 206h17v5h-17zM248 211h16v5h-16zM473 216h16v4h-16zM135 225h16v5h-16zM360 225h17v5h-17zM537 225h17v5h-17zM537 244h17v5h-17zM264 249h16v4h-16zM344 253h16v5h-16zM682 253h16v5h-16zM199 258h17v5h-17zM360 258h17v5h-17zM441 263h16v5h-16zM312 272h16v5h-16zM650 272h16v5h-16zM312 282h16v5h-16zM344 296h16v5h-16zM360 296h17v5h-17zM360 305h17v5h-17zM183 310h16v5h-16zM312 310h16v5h-16zM393 310h16v5h-16zM280 376h16v5h-16zM505 376h16v5h-16zM650 395h16v5h-16zM393 438h16v4h-16zM183 461h16v5h-16zM264 461h16v5h-16zM280 461h16v5h-16zM296 461h16v5h-16zM618 461h16v5h-16zM280 475h16v5h-16zM634 475h16v5h-16zM216 499h16v5h-16zM264 499h16v5h-16zM393 499h16v5h-16zM618 499h16v5h-16zM570 508h16v5h-16zM183 513h16v5h-16zM393 527h16v5h-16zM425 532h16v5h-16zM280 537h16v4h-16zM151 546h16v5h-16zM634 546h16v5h-16zM441 551h16v5h-16zM457 551h16v5h-16zM135 556h16v4h-16zM521 556h16v4h-16zM457 565h16v5h-16zM441 574h16v5h-16zM650 574h16v5h-16zM248 589h16v4h-16zM360 589h17v4h-17zM151 598h16v5h-16z"/><path fill="#1f9f88" d="M328 126h16v5h-16zM425 126h16v5h-16zM328 131h16v4h-16zM393 145h16v5h-16zM425 150h16v4h-16zM377 159h16v5h-16zM425 159h16v5h-16zM377 164h16v5h-16zM441 164h16v5h-16zM425 173h16v5h-16zM425 178h16v5h-16zM457 206h16v5h-16zM296 211h16v5h-16zM618 249h16v4h-16zM232 258h16v5h-16zM393 258h16v5h-16zM328 268h16v4h-16zM425 272h16v5h-16zM151 277h16v5h-16zM650 282h16v5h-16zM360 291h17v5h-17zM441 291h16v5h-16zM441 296h16v5h-16zM570 305h16v5h-16zM586 305h16v5h-16zM360 310h17v5h-17zM216 367h16v4h-16zM682 367h16v4h-16zM409 371h16v5h-16zM216 381h16v5h-16zM248 395h16v5h-16zM328 423h16v5h-16zM505 423h16v5h-16zM489 438h16v4h-16zM650 461h16v5h-16zM312 475h16v5h-16zM473 475h16v5h-16zM280 499h16v5h-16zM473 508h16v5h-16zM666 508h16v5h-16zM377 518h16v5h-16zM441 518h16v5h-16zM554 518h16v5h-16zM377 523h16v4h-16zM521 523h16v4h-16zM521 527h16v5h-16zM360 532h17v5h-17zM521 532h16v5h-16zM248 537h16v4h-16zM393 537h16v4h-16zM570 537h16v4h-16zM586 537h16v4h-16zM216 541h16v5h-16zM328 541h16v5h-16zM135 546h16v5h-16zM505 551h16v5h-16zM586 551h16v5h-16zM119 556h16v4h-16zM537 556h17v4h-17zM489 560h16v5h-16zM264 565h16v5h-16zM393 565h16v5h-16zM296 570h16v4h-16zM521 570h16v4h-16zM537 570h17v4h-17zM570 570h16v4h-16zM312 574h16v5h-16zM489 574h16v5h-16z"/><path fill="#44bf70" d="M377 126h16v5h-16zM377 131h16v4h-16zM409 192h16v5h-16zM425 197h16v5h-16zM441 253h16v5h-16zM425 258h16v5h-16zM248 282h16v5h-16zM344 291h16v5h-16zM183 376h16v5h-16zM296 438h16v4h-16zM425 537h16v4h-16zM167 556h16v4h-16zM248 570h16v4h-16z"/><path fill="#7ad151" d="M393 126h16v5h-16zM393 131h16v4h-16zM393 154h16v5h-16zM409 164h16v5h-16zM393 187h16v5h-16zM425 225h16v5h-16zM441 268h16v4h-16zM650 301h16v4h-16zM586 371h16v5h-16zM119 423h16v5h-16zM618 532h16v5h-16zM312 546h16v5h-16zM570 556h16v4h-16zM312 579h16v5h-16zM280 584h16v5h-16zM521 593h16v5h-16z"/><path fill="#24868e" d="M666 126h16v5h-16zM151 131h16v4h-16zM682 131h16v4h-16zM280 135h16v5h-16zM489 135h16v5h-16zM151 140h16v5h-16zM183 140h16v5h-16zM489 140h16v5h-16zM216 145h16v5h-16zM296 145h16v5h-16zM312 145h16v5h-16zM489 145h16v5h-16zM570 145h16v5h-16zM521 150h16v4h-16zM183 154h16v5h-16zM489 154h16v5h-16zM183 159h16v5h-16zM489 159h16v5h-16zM650 159h16v5h-16zM344 164h16v5h-16zM232 173h16v5h-16zM570 178h16v5h-16zM473 183h16v4h-16zM151 197h16v5h-16zM344 197h16v5h-16zM248 202h16v4h-16zM344 202h16v4h-16zM521 202h16v4h-16zM650 202h16v4h-16zM119 206h16v5h-16zM151 206h16v5h-16zM312 206h16v5h-16zM570 206h16v5h-16zM634 206h16v5h-16zM151 211h16v5h-16zM312 211h16v5h-16zM521 211h16v5h-16zM554 211h16v5h-16zM602 211h16v5h-16zM167 216h16v4h-16zM199 216h17v4h-17zM554 216h16v4h-16zM264 220h16v5h-16zM505 220h16v5h-16zM634 225h16v5h-16zM151 235h16v4h-16zM634 235h16v4h-16zM119 239h16v5h-16zM264 239h16v5h-16zM151 244h16v5h-16zM473 244h16v5h-16zM570 244h16v5h-16zM586 244h16v5h-16zM602 244h16v5h-16zM650 244h16v5h-16zM312 249h16v4h-16zM344 249h16v4h-16zM602 253h16v5h-16zM248 258h16v5h-16zM312 258h16v5h-16zM473 258h16v5h-16zM216 263h16v5h-16zM473 263h16v5h-16zM570 263h16v5h-16zM650 268h16v4h-16zM264 272h16v5h-16zM216 277h16v5h-16zM232 277h16v5h-16zM537 277h17v5h-17zM135 282h16v5h-16zM682 287h16v4h-16zM328 291h16v5h-16zM682 291h16v5h-16zM521 301h16v4h-16zM554 305h16v5h-16zM296 315h16v5h-16zM618 315h16v5h-16zM199 367h17v4h-17zM248 367h16v4h-16zM344 367h16v4h-16zM360 367h17v4h-17zM377 371h16v5h-16zM634 371h16v5h-16zM296 376h16v5h-16zM618 376h16v5h-16zM183 381h16v5h-16zM586 381h16v5h-16zM634 381h16v5h-16zM360 395h17v5h-17zM682 423h16v5h-16zM183 438h16v4h-16zM151 475h16v5h-16zM377 475h16v5h-16zM537 475h17v5h-17zM473 499h16v5h-16zM650 499h16v5h-16zM409 504h16v4h-16zM232 508h16v5h-16zM441 508h16v5h-16zM537 508h17v5h-17zM344 513h16v5h-16zM280 518h16v5h-16zM666 518h16v5h-16zM216 523h16v4h-16zM457 523h16v4h-16zM570 523h16v4h-16zM264 532h16v5h-16zM328 532h16v5h-16zM377 532h16v5h-16zM666 532h16v5h-16zM216 537h16v4h-16zM167 541h16v5h-16zM248 541h16v5h-16zM296 541h16v5h-16zM312 541h16v5h-16zM344 541h16v5h-16zM216 546h16v5h-16zM377 546h16v5h-16zM618 546h16v5h-16zM425 551h16v5h-16zM521 551h16v5h-16zM682 551h16v5h-16zM505 556h16v4h-16zM151 560h16v5h-16zM264 560h16v5h-16zM296 560h16v5h-16zM344 560h16v5h-16zM296 565h16v5h-16zM586 565h16v5h-16zM618 565h16v5h-16zM216 570h16v4h-16zM280 570h16v4h-16zM135 574h16v5h-16zM216 574h16v5h-16zM264 574h16v5h-16zM296 574h16v5h-16zM393 574h16v5h-16zM457 574h16v5h-16zM554 574h16v5h-16zM570 574h16v5h-16zM135 579h16v5h-16zM167 579h16v5h-16zM586 579h16v5h-16zM650 579h16v5h-16zM682 579h16v5h-16zM183 589h16v4h-16zM296 589h16v4h-16zM312 589h16v4h-16zM650 589h16v4h-16zM666 589h16v4h-16zM634 593h16v5h-16zM232 598h16v5h-16zM650 598h16v5h-16z"/><path fill="#e5e419" d="M409 131h16v4h-16zM409 135h16v5h-16zM409 216h16v4h-16zM409 220h16v5h-16z"/><path fill="#4ec36b" d="M425 131h16v4h-16zM425 135h16v5h-16zM425 140h16v5h-16zM409 154h16v5h-16zM393 169h16v4h-16zM232 211h16v5h-16zM409 249h16v4h-16zM441 249h16v4h-16zM409 258h16v5h-16zM393 272h16v5h-16zM409 272h16v5h-16zM232 301h16v4h-16zM618 310h16v5h-16zM441 367h16v4h-16zM344 371h16v5h-16zM377 376h16v5h-16zM682 499h16v5h-16zM280 504h16v4h-16zM409 537h16v4h-16zM441 537h16v4h-16zM521 574h16v5h-16z"/><path fill="#3a548c" d="M554 131h16v4h-16zM344 145h16v5h-16zM650 145h16v5h-16zM216 150h16v4h-16zM618 150h16v4h-16zM151 159h16v5h-16zM183 169h16v4h-16zM151 173h16v5h-16zM328 173h16v5h-16zM264 183h16v4h-16zM634 197h16v5h-16zM537 211h17v5h-17zM248 216h16v4h-16zM328 216h16v4h-16zM586 220h16v5h-16zM199 253h17v5h-17zM489 282h16v5h-16zM489 287h16v4h-16zM264 291h16v5h-16zM199 301h17v4h-17zM666 301h16v4h-16zM425 310h16v5h-16zM312 315h16v5h-16zM489 371h16v5h-16zM489 376h16v5h-16zM586 376h16v5h-16zM264 423h16v5h-16zM280 423h16v5h-16zM586 438h16v4h-16zM602 438h16v4h-16zM586 461h16v5h-16zM248 475h16v5h-16zM441 504h16v4h-16zM393 508h16v5h-16zM602 508h16v5h-16zM119 513h16v5h-16zM360 537h17v4h-17zM232 541h16v5h-16zM457 541h16v5h-16zM473 541h16v5h-16zM554 541h16v5h-16zM554 546h16v5h-16zM473 551h16v5h-16zM441 556h16v4h-16zM280 565h16v5h-16zM618 574h16v5h-16zM409 579h16v5h-16zM199 584h17v5h-17zM393 584h16v5h-16zM409 589h16v4h-16z"/><path fill="#2cb17e" d="M377 135h16v5h-16zM425 169h16v4h-16zM393 192h16v5h-16zM425 216h16v4h-16zM441 244h16v5h-16zM425 253h16v5h-16zM377 268h16v4h-16zM377 287h16v4h-16zM554 296h16v5h-16zM328 310h16v5h-16zM328 315h16v5h-16zM264 367h16v4h-16zM216 395h16v5h-16zM199 461h17v5h-17zM377 461h16v5h-16zM377 499h16v5h-16zM296 504h16v4h-16zM344 504h16v4h-16zM296 508h16v5h-16zM280 513h16v5h-16zM457 518h16v5h-16zM634 518h16v5h-16zM650 518h16v5h-16zM441 523h16v4h-16zM537 523h17v4h-17zM682 527h16v5h-16zM650 532h16v5h-16zM537 537h17v4h-17zM570 541h16v5h-16zM586 541h16v5h-16zM344 551h16v5h-16zM199 579h17v5h-17zM586 589h16v4h-16z"/><path fill="#fde725" d="M409 140h16v5h-16zM409 169h16v4h-16zM409 183h16v4h-16z"/><path fill="#22a884" d="M119 145h16v5h-16zM377 150h16v4h-16zM377 173h16v5h-16zM377 178h16v5h-16zM457 178h16v5h-16zM377 183h16v4h-16zM377 187h16v5h-16zM167 192h16v5h-16zM393 197h16v5h-16zM409 202h16v4h-16zM409 206h16v5h-16zM425 206h16v5h-16zM586 206h16v5h-16zM441 216h16v4h-16zM441 220h16v5h-16zM393 225h16v5h-16zM296 230h16v5h-16zM473 239h16v5h-16zM425 249h16v4h-16zM489 253h16v5h-16zM199 263h17v5h-17zM489 268h16v4h-16zM521 272h16v5h-16zM135 277h16v5h-16zM183 277h16v5h-16zM183 282h16v5h-16zM441 282h16v5h-16zM393 287h16v4h-16zM409 287h16v4h-16zM119 291h16v5h-16zM666 291h16v5h-16zM119 296h16v5h-16zM666 296h16v5h-16zM682 296h16v5h-16zM119 301h16v4h-16zM505 301h16v4h-16zM167 305h16v5h-16zM344 305h16v5h-16zM634 315h16v5h-16zM199 371h17v5h-17zM521 371h16v5h-16zM425 376h16v5h-16zM457 395h16v5h-16zM441 423h16v5h-16zM199 438h17v4h-17zM344 475h16v5h-16zM409 508h16v5h-16zM425 508h16v5h-16zM151 513h16v5h-16zM151 518h16v5h-16zM135 523h16v4h-16zM167 523h16v4h-16zM505 523h16v4h-16zM119 527h16v5h-16zM312 527h16v5h-16zM505 527h16v5h-16zM119 532h16v5h-16zM151 541h16v5h-16zM135 560h16v5h-16zM457 570h16v4h-16zM183 574h16v5h-16zM344 574h16v5h-16zM666 574h16v5h-16zM280 579h16v5h-16zM377 584h16v5h-16zM199 589h17v4h-17zM216 589h16v4h-16zM489 589h16v4h-16zM151 593h16v5h-16zM489 593h16v5h-16zM183 598h16v5h-16zM473 598h16v5h-16zM537 598h17v5h-17zM682 598h16v5h-16z"/><path fill="#95d840" d="M377 145h16v5h-16zM425 145h16v5h-16zM425 154h16v5h-16zM393 159h16v5h-16zM393 173h16v5h-16zM393 178h16v5h-16zM409 187h16v5h-16zM264 230h16v5h-16zM377 263h16v5h-16zM232 310h16v5h-16zM135 381h16v5h-16zM360 523h17v4h-17zM441 570h16v4h-16z"/><path fill="#3bbb75" d="M409 145h16v5h-16zM425 164h16v5h-16zM425 183h16v4h-16zM425 187h16v5h-16zM377 192h16v5h-16zM425 192h16v5h-16zM618 197h16v5h-16zM682 202h16v4h-16zM409 239h16v5h-16zM264 244h16v5h-16zM232 263h16v5h-16zM473 381h16v5h-16zM425 461h16v5h-16zM505 475h16v5h-16zM151 508h16v5h-16zM344 556h16v4h-16zM409 565h16v5h-16zM602 565h16v5h-16zM232 584h16v5h-16zM248 584h16v5h-16zM135 593h16v5h-16z"/><path fill="#1f9a8a" d="M505 145h16v5h-16zM505 216h16v4h-16zM521 216h16v4h-16zM151 220h16v5h-16zM328 235h16v4h-16zM135 239h16v5h-16zM505 244h16v5h-16zM650 249h16v4h-16zM537 253h17v5h-17zM666 253h16v5h-16zM521 258h16v5h-16zM521 268h16v4h-16zM183 272h16v5h-16zM554 277h16v5h-16zM554 315h16v5h-16zM682 315h16v5h-16zM650 371h16v5h-16zM409 376h16v5h-16zM312 395h16v5h-16zM296 499h16v5h-16zM425 499h16v5h-16zM505 504h16v4h-16zM682 513h16v5h-16zM312 523h16v4h-16zM377 527h16v5h-16zM360 546h17v5h-17zM537 546h17v5h-17zM602 546h16v5h-16zM183 551h16v5h-16zM328 551h16v5h-16zM473 560h16v5h-16zM682 565h16v5h-16zM360 570h17v4h-17zM409 570h16v4h-16zM505 570h16v4h-16zM328 574h16v5h-16zM666 584h16v5h-16zM441 598h16v5h-16zM570 598h16v5h-16zM602 598h16v5h-16z"/><path fill="#1f958b" d="M521 145h16v5h-16zM682 154h16v5h-16zM666 159h16v5h-16zM199 164h17v5h-17zM135 169h16v4h-16zM441 169h16v4h-16zM473 173h16v5h-16zM280 183h16v4h-16zM393 183h16v4h-16zM682 183h16v4h-16zM312 187h16v5h-16zM489 211h16v5h-16zM216 216h16v4h-16zM586 216h16v4h-16zM682 220h16v5h-16zM489 225h16v5h-16zM409 230h16v5h-16zM393 235h16v4h-16zM151 239h16v5h-16zM521 244h16v5h-16zM666 258h16v5h-16zM505 272h16v5h-16zM377 277h16v5h-16zM377 282h16v5h-16zM554 287h16v4h-16zM634 287h16v4h-16zM505 291h16v5h-16zM570 291h16v5h-16zM570 296h16v5h-16zM586 301h16v4h-16zM602 301h16v4h-16zM183 305h16v5h-16zM586 315h16v5h-16zM409 367h16v4h-16zM457 367h16v4h-16zM183 371h16v5h-16zM312 371h16v5h-16zM473 371h16v5h-16zM232 381h16v5h-16zM377 395h16v5h-16zM393 395h16v5h-16zM393 423h16v5h-16zM409 423h16v5h-16zM586 423h16v5h-16zM602 423h16v5h-16zM650 423h16v5h-16zM312 438h16v4h-16zM409 499h16v5h-16zM634 499h16v5h-16zM360 504h17v4h-17zM489 518h16v5h-16zM248 523h16v4h-16zM618 537h16v4h-16zM264 541h16v5h-16zM537 541h17v5h-17zM280 546h16v5h-16zM328 546h16v5h-16zM586 546h16v5h-16zM312 551h16v5h-16zM586 556h16v4h-16zM554 560h16v5h-16zM135 565h16v5h-16zM328 565h16v5h-16zM199 574h17v5h-17zM280 574h16v5h-16zM119 584h16v5h-16zM135 584h16v5h-16zM634 584h16v5h-16zM505 589h16v4h-16zM537 593h17v5h-17zM199 598h17v5h-17z"/><path fill="#63cb5f" d="M393 150h16v4h-16zM409 253h16v5h-16zM602 305h16v5h-16zM570 315h16v5h-16zM119 395h16v5h-16zM586 499h16v5h-16zM586 513h16v5h-16zM232 532h16v5h-16zM377 589h16v4h-16z"/><path fill="#b0dd2f" d="M409 150h16v4h-16zM393 164h16v5h-16zM167 235h16v4h-16z"/><path fill="#f1e51d" d="M409 159h16v5h-16z"/><path fill="#414487" d="M489 173h16v5h-16zM521 187h16v5h-16zM167 202h16v4h-16zM473 211h16v5h-16zM457 216h16v4h-16zM119 230h16v5h-16zM344 230h16v5h-16zM457 235h16v4h-16zM377 239h16v5h-16zM199 244h17v5h-17zM280 244h16v5h-16zM312 268h16v4h-16zM344 268h16v4h-16zM199 272h17v5h-17zM441 272h16v5h-16zM344 277h16v5h-16zM489 277h16v5h-16zM602 277h16v5h-16zM377 305h16v5h-16zM457 310h16v5h-16zM666 315h16v5h-16zM151 371h16v5h-16zM199 376h17v5h-17zM328 381h16v5h-16zM264 438h16v4h-16zM441 438h16v4h-16zM425 518h16v5h-16zM199 532h17v5h-17zM602 537h16v4h-16zM119 541h16v5h-16zM135 541h16v5h-16zM457 560h16v5h-16zM344 565h16v5h-16zM634 565h16v5h-16zM586 574h16v5h-16zM602 574h16v5h-16zM554 584h16v5h-16zM135 589h16v4h-16z"/><path fill="#472a7a" d="M441 202h16v4h-16z"/><path fill="#453781" d="M473 202h16v4h-16zM457 225h16v5h-16zM554 230h16v5h-16zM312 235h16v4h-16zM537 258h17v5h-17zM360 282h17v5h-17zM248 287h16v4h-16zM586 291h16v5h-16zM183 315h16v5h-16zM296 367h16v4h-16zM570 367h16v4h-16zM554 438h16v4h-16zM312 513h16v5h-16zM634 513h16v5h-16zM264 537h16v4h-16zM119 551h16v5h-16zM650 551h16v5h-16zM634 556h16v4h-16zM473 579h16v5h-16zM119 589h16v4h-16zM167 589h16v4h-16zM119 598h16v5h-16z"/><path fill="#481d6f" d="M489 202h16v4h-16zM634 244h16v5h-16zM296 395h16v5h-16zM554 504h16v4h-16zM489 523h16v4h-16zM167 527h16v5h-16zM119 546h16v5h-16zM183 570h16v4h-16z"/><path fill="#482475" d="M537 216h17v4h-17zM377 249h16v4h-16zM151 305h16v5h-16zM312 367h16v4h-16zM409 518h16v5h-16zM473 574h16v5h-16zM409 593h16v5h-16zM521 598h16v5h-16z"/><path fill="#471063" d="M441 239h16v5h-16zM634 272h16v5h-16zM586 527h16v5h-16zM634 560h16v5h-16z"/><path fill="#440154" d="M119 475h16v5h-16z"/><path fill="#86d549" d="M650 565h16v5h-16zM409 598h16v5h-16z"/></g>
<polyline points="119.0,108.2 135.6,103.4 152.1,101.7 168.7,97.9 185.2,99.7 201.8,93.5 218.3,95.2 234.9,88.7 251.4,93.8 268.0,89.3 284.5,84.5 301.1,92.4 317.7,100.3 334.2,73.9 350.8,86.9 367.3,82.1 383.9,61.2 400.4,48.1 417.0,5.8 433.5,44.7 450.1,63.6 466.6,91.8 483.2,102.7 499.7,99.0 516.3,91.4 532.9,92.1 549.4,91.1 566.0,98.6 582.5,99.0 599.1,95.5 615.6,108.9 632.2,84.9 648.7,108.6 665.3,90.7 681.8,115.1 698.4,99.7" fill="none" stroke="#000" stroke-width="2.1" stroke-linejoin="miter" clip-path="url(#ct)"/>
<clipPath id="ct"><rect x="119.0" y="1.0" width="579.4" height="120.3"/></clipPath>
<clipPath id="cr"><rect x="698.4" y="121.3" width="173.6" height="481.5"/></clipPath>
<polyline points="863.3,122.4 856.0,128.0 849.7,135.0 833.9,143.4 832.4,149.7 835.0,156.0 845.9,163.7 837.0,171.7 826.0,179.6 815.0,187.5 794.5,192.5 774.0,197.4 767.3,202.2 767.8,206.9 768.2,211.6 783.4,216.6 798.6,221.7 794.0,226.8 770.3,231.3 746.7,235.8 741.9,240.4 762.5,245.0 782.4,248.8 792.3,254.5 789.8,259.3 776.1,265.0 767.0,269.8 759.0,274.0 749.9,278.2 761.5,283.1 773.0,288.1 760.4,292.9 732.0,297.5 727.8,302.1 738.3,307.0 748.8,311.9 759.3,316.8 753.0,321.7 741.5,326.9 736.0,331.4 731.0,335.8 718.7,340.6 706.4,345.4 718.4,350.0 742.5,355.3 759.3,359.5 758.3,364.7 739.4,369.0 721.5,373.8 721.1,378.4 723.6,383.7 729.9,388.0 738.3,392.9 750.9,397.7 765.6,402.3 768.2,406.9 762.5,412.4 750.9,417.0 748.8,421.6 757.6,426.0 753.0,431.3 739.4,436.3 732.0,440.5 726.1,445.4 734.1,450.1 742.1,454.8 735.2,459.5 717.3,464.7 711.0,469.5 735.2,475.4 753.0,479.0 754.1,483.6 744.2,488.9 745.3,493.4 746.3,497.9 738.7,502.5 737.9,506.9 724.5,512.2 711.0,517.4 731.0,521.7 750.9,526.1 745.2,531.0 739.4,535.9 738.6,540.6 737.9,545.4 747.0,550.1 756.2,554.8 733.9,559.9 711.6,564.9 726.5,569.5 741.5,574.2 730.6,579.2 719.8,584.2 734.6,589.1 749.5,594.1 747.8,599.0 750.9,602.1" fill="none" stroke="#ffa500" stroke-width="2.1" stroke-linejoin="round" clip-path="url(#cr)"/>
<g stroke="#000" stroke-width="1.4"><line x1="118.6" y1="602.8" x2="118.6" y2="608.0"/><line x1="221.0" y1="602.8" x2="221.0" y2="608.0"/><line x1="323.4" y1="602.8" x2="323.4" y2="608.0"/><line x1="425.8" y1="602.8" x2="425.8" y2="608.0"/><line x1="528.2" y1="602.8" x2="528.2" y2="608.0"/><line x1="630.6" y1="602.8" x2="630.6" y2="608.0"/><line x1="119.0" y1="543.2" x2="113.8" y2="543.2"/><line x1="119.0" y1="482.8" x2="113.8" y2="482.8"/><line x1="119.0" y1="422.3" x2="113.8" y2="422.3"/><line x1="119.0" y1="361.9" x2="113.8" y2="361.9"/><line x1="119.0" y1="301.5" x2="113.8" y2="301.5"/><line x1="119.0" y1="241.0" x2="113.8" y2="241.0"/><line x1="119.0" y1="180.6" x2="113.8" y2="180.6"/></g>
<g fill="none" stroke="#000" stroke-width="1.7" stroke-linecap="square">
<rect x="119.0" y="1.0" width="579.4" height="120.3"/>
<rect x="119.0" y="121.3" width="579.4" height="481.5"/>
<rect x="698.4" y="121.3" width="173.6" height="481.5"/>
</g>
<g font-size="25px"><text x="116.6" y="631.5" text-anchor="middle">0</text><text x="219.0" y="631.5" text-anchor="middle">10</text><text x="321.4" y="631.5" text-anchor="middle">20</text><text x="423.8" y="631.5" text-anchor="middle">30</text><text x="526.2" y="631.5" text-anchor="middle">40</text><text x="628.6" y="631.5" text-anchor="middle">50</text><text x="100.3" y="553.6" text-anchor="end">1100</text><text x="100.3" y="493.2" text-anchor="end">1150</text><text x="100.3" y="432.7" text-anchor="end">1200</text><text x="100.3" y="372.3" text-anchor="end">1250</text><text x="100.3" y="311.9" text-anchor="end">1300</text><text x="100.3" y="251.4" text-anchor="end">1350</text><text x="100.3" y="191.0" text-anchor="end">1400</text></g>
<text x="335.6" y="671.2" font-size="30px" textLength="74.5" lengthAdjust="spacingAndGlyphs">Time</text>
<text x="421.1" y="671.2" font-size="30px" textLength="61.5" lengthAdjust="spacingAndGlyphs"><tspan font-size="34px">(</tspan>ms<tspan font-size="34px">)</tspan></text>
<text transform="translate(24.7 490.6) rotate(-90)" font-size="30px" textLength="143.5" lengthAdjust="spacingAndGlyphs">Frequency</text>
<text transform="translate(24.7 336.4) rotate(-90)" font-size="30px" textLength="92" lengthAdjust="spacingAndGlyphs"><tspan font-size="34px">(</tspan>MHz<tspan font-size="34px">)</tspan></text>
<text x="666.4" y="41.9" font-size="30px" text-anchor="middle" ><tspan font-size="34px">(</tspan>b<tspan font-size="34px">)</tspan></text>
<text x="665.7" y="157.5" font-size="30px" text-anchor="middle" style="fill:#fff"><tspan font-size="34px">(</tspan>a<tspan font-size="34px">)</tspan></text>
<text x="849.2" y="158" font-size="30px" text-anchor="middle" ><tspan font-size="34px">(</tspan>c<tspan font-size="34px">)</tspan></text>
<line x1="713.1" y1="143.4" x2="748.4" y2="143.4" stroke="#ffa500" stroke-width="2.1"/>
<text x="753.6" y="151.8" font-size="21px" textLength="59" lengthAdjust="spacingAndGlyphs">FAST</text>
</svg>
</body></html>
